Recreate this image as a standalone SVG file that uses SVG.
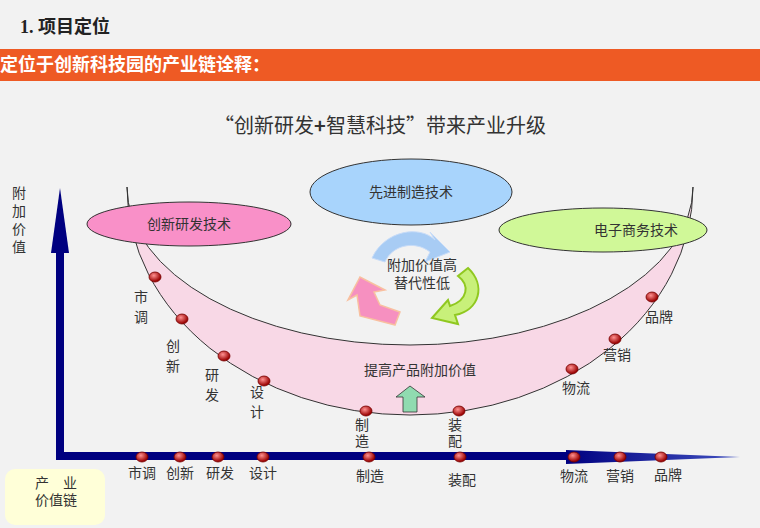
<svg xmlns="http://www.w3.org/2000/svg" width="760" height="528" viewBox="0 0 760 528">
<defs>
<style>
text{font-family:"Liberation Serif","Noto Sans CJK SC",serif;fill:#333}
.s{font-size:14px}
.e{stroke:#333;stroke-width:1}
.dot{fill:#b01818;stroke:#700;stroke-width:0.8}
</style>
<linearGradient id="ha" x1="0" x2="1"><stop offset="0" stop-color="#000080"/><stop offset="1" stop-color="#4050c0"/></linearGradient>
<radialGradient id="dg" cx="0.4" cy="0.35" r="0.6"><stop offset="0" stop-color="#ff9090"/><stop offset="1" stop-color="#900"/></radialGradient>
</defs>
<rect width="760" height="528" fill="#f2f2f2"/>
<text x="20" y="33" style="font-size:18px;font-weight:bold;fill:#222">1. 项目定位</text>
<rect x="0" y="49" width="760" height="32" fill="#ee5a24"/>
<text x="0" y="71" style="font-size:18px;font-weight:bold;fill:#fff">定位于创新科技园的产业链诠释：</text>
<text x="380" y="133" text-anchor="middle" style="font-size:20px;font-family:'Noto Sans CJK SC',sans-serif">“创新研发<tspan font-weight="bold">+</tspan>智慧科技”带来产业升级</text>
<g id="crescent"><path d="M127,187 A283,228 0 0 0 693,187 A283,158 0 0 1 127,187Z" fill="#f8d8e6" stroke="#333" stroke-width="1"/></g>
<g id="connectors">
<rect x="56" y="252" width="8" height="206" fill="#000080"/>
<polygon points="51,253 69,253 60,188" fill="#000080"/>
<rect x="56" y="452" width="516" height="8" fill="#000080"/>
<polygon points="566,450 740,457 566,464" fill="url(#ha)"/>
<path d="M403,412 V397 H396 L410,386 L425,397 H417 V412Z" fill="#90dbb0" stroke="#333" stroke-width="0.8"/>
<path d="M372,258 C385,230 420,225 435,240 L430,232 L450,252 L425,262 L430,252 C415,240 392,245 385,262Z" fill="#a8ccf4" stroke="#c8dcf8"/>
<path d="M395,325 L360,316 L357,295 L348,300 L360,277 L385,290 L374,292 L380,305 L400,312Z" fill="#f690c0" stroke="#f8c0a0" stroke-width="1.5"/>
<path d="M468,268 C486,285 480,310 455,315 L458,324 L432,318 L448,300 L450,306 C468,300 470,285 458,276Z" fill="#c8f07a" stroke="#90c820" stroke-width="2"/>
</g>
<g id="n1"><ellipse cx="189" cy="224" rx="102" ry="22" fill="#f990c8" class="e"/><text x="189" y="229" text-anchor="middle" class="s">创新研发技术</text></g>
<g id="n2"><ellipse cx="411" cy="192" rx="101" ry="33" fill="#a8d4fc" class="e"/><text x="411" y="197" text-anchor="middle" class="s">先进制造技术</text></g>
<g id="n3"><ellipse cx="603" cy="230" rx="104" ry="22" fill="#d0f898" class="e"/><text x="636" y="235" text-anchor="middle" class="s">电子商务技术</text></g>
<g id="center"><text x="422" y="270" text-anchor="middle" class="s">附加价值高</text><text x="422" y="288" text-anchor="middle" class="s">替代性低</text>
<text x="420" y="375" text-anchor="middle" class="s">提高产品附加价值</text></g>
<g id="ylabel" class="s"><text x="12" y="198" class="s">附</text><text x="12" y="216" class="s">加</text><text x="12" y="234" class="s">价</text><text x="12" y="252" class="s">值</text></g>
<g id="box"><rect x="5" y="469" width="100" height="56" rx="10" fill="#ffffd8"/><text x="56" y="488" text-anchor="middle" class="s">产　业</text><text x="56" y="505" text-anchor="middle" class="s">价值链</text></g>
<g id="dots">
<g class="dot"><ellipse cx="142" cy="457" rx="6" ry="5" fill="url(#dg)"/><ellipse cx="180" cy="457" rx="6" ry="5" fill="url(#dg)"/><ellipse cx="218" cy="457" rx="6" ry="5" fill="url(#dg)"/><ellipse cx="263" cy="457" rx="6" ry="5" fill="url(#dg)"/><ellipse cx="369" cy="457" rx="6" ry="5" fill="url(#dg)"/><ellipse cx="460" cy="457" rx="6" ry="5" fill="url(#dg)"/><ellipse cx="574" cy="457" rx="6" ry="5" fill="url(#dg)"/><ellipse cx="620" cy="457" rx="6" ry="5" fill="url(#dg)"/><ellipse cx="661" cy="457" rx="6" ry="5" fill="url(#dg)"/>
<ellipse cx="155" cy="277" rx="6" ry="5" fill="url(#dg)"/><ellipse cx="182" cy="319" rx="6" ry="5" fill="url(#dg)"/><ellipse cx="224" cy="356" rx="6" ry="5" fill="url(#dg)"/><ellipse cx="264" cy="381" rx="6" ry="5" fill="url(#dg)"/><ellipse cx="366" cy="411" rx="6" ry="5" fill="url(#dg)"/><ellipse cx="459" cy="411" rx="6" ry="5" fill="url(#dg)"/><ellipse cx="572" cy="369" rx="6" ry="5" fill="url(#dg)"/><ellipse cx="615" cy="339" rx="6" ry="5" fill="url(#dg)"/><ellipse cx="652" cy="297" rx="6" ry="5" fill="url(#dg)"/></g>
</g>
<g id="labels" class="s">
<text x="142" y="478" text-anchor="middle" class="s">市调</text><text x="180" y="478" text-anchor="middle" class="s">创新</text><text x="220" y="478" text-anchor="middle" class="s">研发</text><text x="263" y="478" text-anchor="middle" class="s">设计</text><text x="370" y="481" text-anchor="middle" class="s">制造</text><text x="462" y="485" text-anchor="middle" class="s">装配</text><text x="574" y="481" text-anchor="middle" class="s">物流</text><text x="620" y="481" text-anchor="middle" class="s">营销</text><text x="668" y="480" text-anchor="middle" class="s">品牌</text>
<text x="134" y="302" class="s">市</text><text x="134" y="322" class="s">调</text>
<text x="166" y="351" class="s">创</text><text x="166" y="371" class="s">新</text>
<text x="205" y="380" class="s">研</text><text x="205" y="400" class="s">发</text>
<text x="250" y="397" class="s">设</text><text x="250" y="417" class="s">计</text>
<text x="355" y="430" class="s">制</text><text x="355" y="446" class="s">造</text>
<text x="448" y="430" class="s">装</text><text x="448" y="446" class="s">配</text>
<text x="562" y="393" class="s">物流</text><text x="603" y="360" class="s">营销</text><text x="645" y="322" class="s">品牌</text>
</g>
</svg>
